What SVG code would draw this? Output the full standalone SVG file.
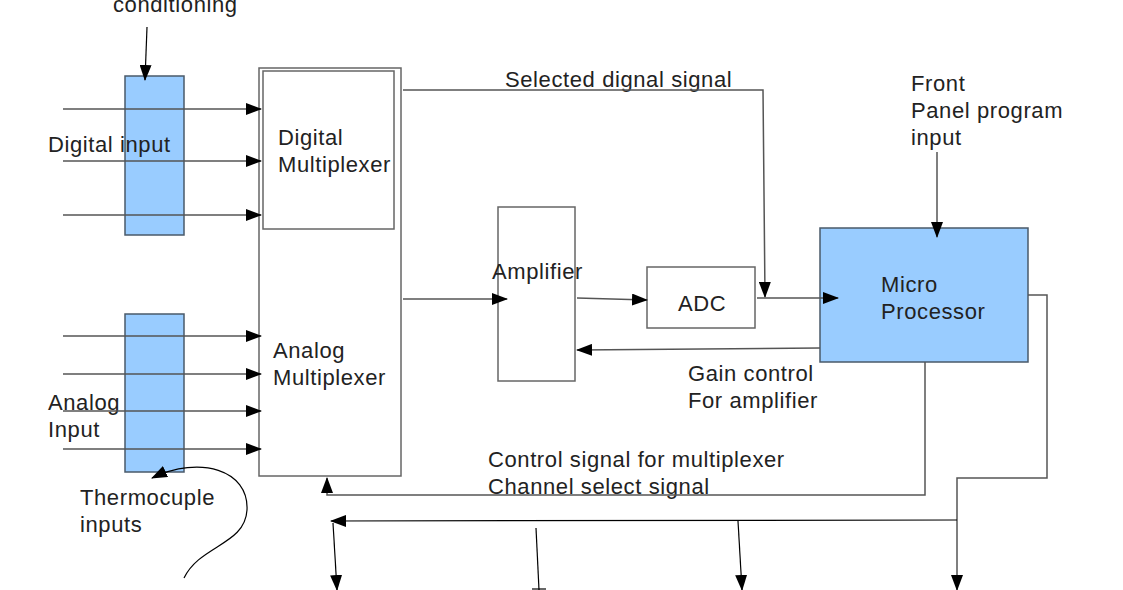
<svg xmlns="http://www.w3.org/2000/svg" width="1123" height="590" viewBox="0 0 1123 590">
<defs>
<marker id="a" markerWidth="16" markerHeight="12" refX="15" refY="6" orient="auto" markerUnits="userSpaceOnUse"><path d="M0,0 L16,6 L0,12 Z" fill="#000"/></marker>
<style>
.t{font-family:"Liberation Sans",Arial,sans-serif;font-size:22px;letter-spacing:0.6px;fill:#222}
.b{fill:#99ccff;stroke:#4a5a6a;stroke-width:1.5}
.w{fill:#fff;stroke:#666;stroke-width:1.5}
.c{fill:none;stroke:#555;stroke-width:1.5}
.k{fill:none;stroke:#000;stroke-width:1.2}
</style>
</defs>
<rect width="1123" height="590" fill="#fff"/>
<g id="cond1"><rect class="b" x="125" y="76" width="59" height="159"/></g>
<g id="cond2"><rect class="b" x="125" y="314" width="59" height="158"/></g>
<g id="mux"><rect class="w" x="259" y="68" width="142" height="408"/><rect class="w" x="263" y="71" width="131" height="158"/>
<text class="t" x="278" y="145">Digital</text><text class="t" x="278" y="172">Multiplexer</text>
<text class="t" x="273" y="358">Analog</text><text class="t" x="273" y="385">Multiplexer</text></g>
<g id="amp"><rect class="w" x="498" y="207" width="77" height="174"/><text class="t" x="492" y="279">Amplifier</text></g>
<g id="adc"><rect class="w" x="647" y="267" width="108" height="61"/><text class="t" x="678" y="311">ADC</text></g>
<g id="micro"><rect class="b" x="820" y="228" width="208" height="134"/><text class="t" x="881" y="292">Micro</text><text class="t" x="881" y="319">Processor</text></g>
<g id="labels">
<text class="t" x="113" y="12">conditioning</text>
<text class="t" x="48" y="152">Digital input</text>
<text class="t" x="48" y="410">Analog</text><text class="t" x="48" y="437">Input</text>
<text class="t" x="80" y="505">Thermocuple</text><text class="t" x="80" y="532">inputs</text>
<text class="t" x="505" y="87">Selected dignal signal</text>
<text class="t" x="911" y="91">Front</text><text class="t" x="911" y="118">Panel program</text><text class="t" x="911" y="145">input</text>
<text class="t" x="688" y="381">Gain control</text><text class="t" x="688" y="408">For amplifier</text>
<text class="t" x="488" y="467">Control signal for multiplexer</text><text class="t" x="488" y="494">Channel select signal</text>
</g>
<g id="connectors">
<line class="k" x1="147" y1="27" x2="145" y2="80" marker-end="url(#a)"/>
<g class="c" marker-end="url(#a)">
<line x1="63" y1="109" x2="261" y2="109"/><line x1="63" y1="161" x2="261" y2="161"/><line x1="63" y1="215" x2="261" y2="215"/>
<line x1="63" y1="336" x2="261" y2="336"/><line x1="63" y1="374" x2="261" y2="374"/><line x1="63" y1="411" x2="261" y2="411"/><line x1="63" y1="449" x2="261" y2="449"/>
<polyline points="403,90 763,90 765,297"/>
<line x1="403" y1="299" x2="507" y2="299"/>
<line x1="577" y1="298" x2="647" y2="300"/>
<line x1="757" y1="298" x2="838" y2="298"/>
<line x1="820" y1="348" x2="577" y2="350"/>
<line x1="937" y1="152" x2="937" y2="237"/>
<polyline points="925,362 925,495 327,495 327,478"/>
<polyline points="1028,295 1047,295 1047,478 957,478 957,590"/>
</g>
<g class="k">
<path d="M184,578 C200,545 245,545 247,510 C249,470 200,455 152,478" marker-end="url(#a)"/>
<line x1="957" y1="520" x2="331" y2="521" marker-end="url(#a)"/>
<line x1="333" y1="523" x2="337" y2="590" marker-end="url(#a)"/>
<line x1="536" y1="528" x2="539" y2="590"/><line x1="532" y1="589" x2="546" y2="589"/>
<line x1="738" y1="521" x2="742" y2="590" marker-end="url(#a)"/>
</g>
</g>
</svg>
